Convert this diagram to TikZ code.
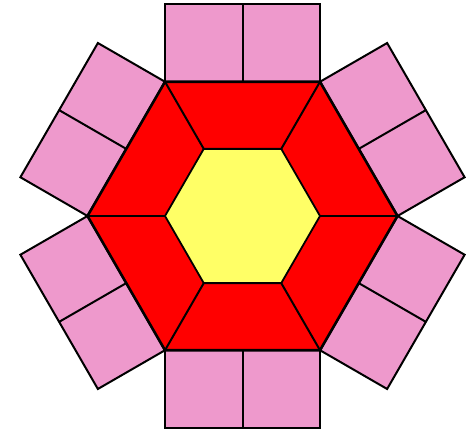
\documentclass[tikz,border=0pt]{standalone}
\usetikzlibrary{calc}
\definecolor{pinkfill}{RGB}{238,153,204}
\definecolor{yellowfill}{RGB}{255,255,102}
\definecolor{redfill}{RGB}{255,0,0}
\tikzset{
  tile/.style={fill=pinkfill,draw=black,line width=2pt,line join=miter},
  tileline/.style={draw=black,line width=2pt},
  ring/.style={fill=redfill},
  divline/.style={draw=black,line width=2pt},
  core/.style={fill=yellowfill,draw=black,line width=1.8pt,line join=miter},
  rim/.style={draw=black,line width=2.6pt,line join=miter}
}
\begin{document}
\begin{tikzpicture}[x=1pt,y=1pt]
\useasboundingbox (0,0) rectangle (474,431);
\coordinate (C) at (242.5,215);
\foreach \k in {0,...,5} {
  \coordinate (O\k) at ($(C)+(60*\k:155pt)$);
  \coordinate (I\k) at ($(C)+(60*\k:77.5pt)$);
}
% pink tiles
\foreach \k in {0,...,5} {
  \pgfmathtruncatemacro{\j}{mod(\k+1,6)}
  \coordinate (A\k) at ($(O\k)+(60*\k+30:77.5pt)$);
  \coordinate (B\k) at ($(O\j)+(60*\k+30:77.5pt)$);
  \path[tile] (O\k) -- (O\j) -- (B\k) -- (A\k) -- cycle;
  \draw[tileline] ($(O\k)!0.5!(O\j)$) -- ($(A\k)!0.5!(B\k)$);
}
% red ring
\path[ring] (O0) -- (O1) -- (O2) -- (O3) -- (O4) -- (O5) -- cycle;
\foreach \k in {0,...,5} {
  \draw[divline] (I\k) -- (O\k);
}
\path[core] (I0) -- (I1) -- (I2) -- (I3) -- (I4) -- (I5) -- cycle;
\path[rim] (O0) -- (O1) -- (O2) -- (O3) -- (O4) -- (O5) -- cycle;
\end{tikzpicture}
\end{document}
